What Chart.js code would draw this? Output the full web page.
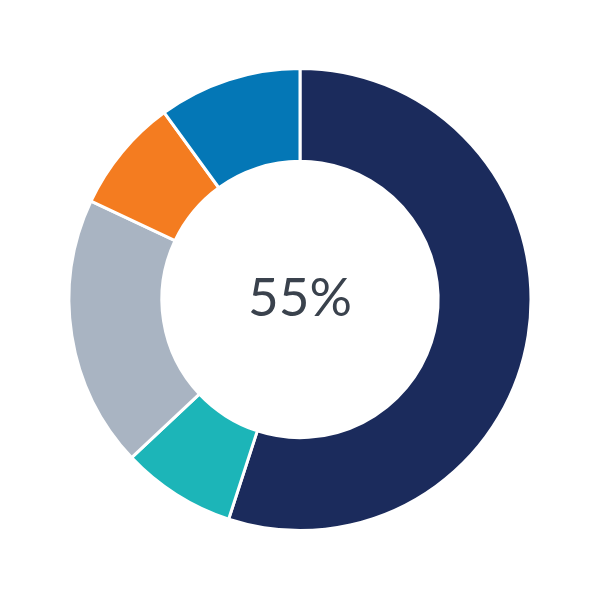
<!DOCTYPE html>
<html>
<head>
<meta charset="utf-8">
<script src="https://cdn.jsdelivr.net/npm/chart.js@4/dist/chart.umd.min.js"></script>
<style>
  html, body { margin: 0; padding: 0; background: #ffffff; }
  #wrap { position: relative; width: 600px; height: 599px; }
  #center { position: absolute; left: 0; top: -4px; width: 600px; height: 599px;
    display: flex; align-items: center; justify-content: center;
    font-family: Lato, "Open Sans", sans-serif; font-size: 53px; color: #3a424d;
    pointer-events: none; }
</style>
</head>
<body>
<div id="wrap">
  <canvas id="c" width="600" height="599"></canvas>
  <div id="center"></div>
</div>
<script>
const categories = ["Segment 1", "Segment 2", "Segment 3", "Segment 4", "Segment 5"];
const values = [55, 8, 19, 8, 10];
const colors = ["#1b2b5c", "#1cb5b8", "#a9b4c2", "#f47c20", "#0477b6"];
const centerLabel = "55%";

document.getElementById("center").textContent = centerLabel;

new Chart(document.getElementById("c"), {
  type: "doughnut",
  data: {
    labels: categories,
    datasets: [{
      data: values,
      backgroundColor: colors,
      borderColor: "#ffffff",
      borderWidth: 3
    }]
  },
  options: {
    responsive: false,
    animation: false,
    cutout: "59.8%",
    layout: { padding: 67 },
    plugins: { legend: { display: false }, tooltip: { enabled: false } }
  }
});
</script>
</body>
</html>
